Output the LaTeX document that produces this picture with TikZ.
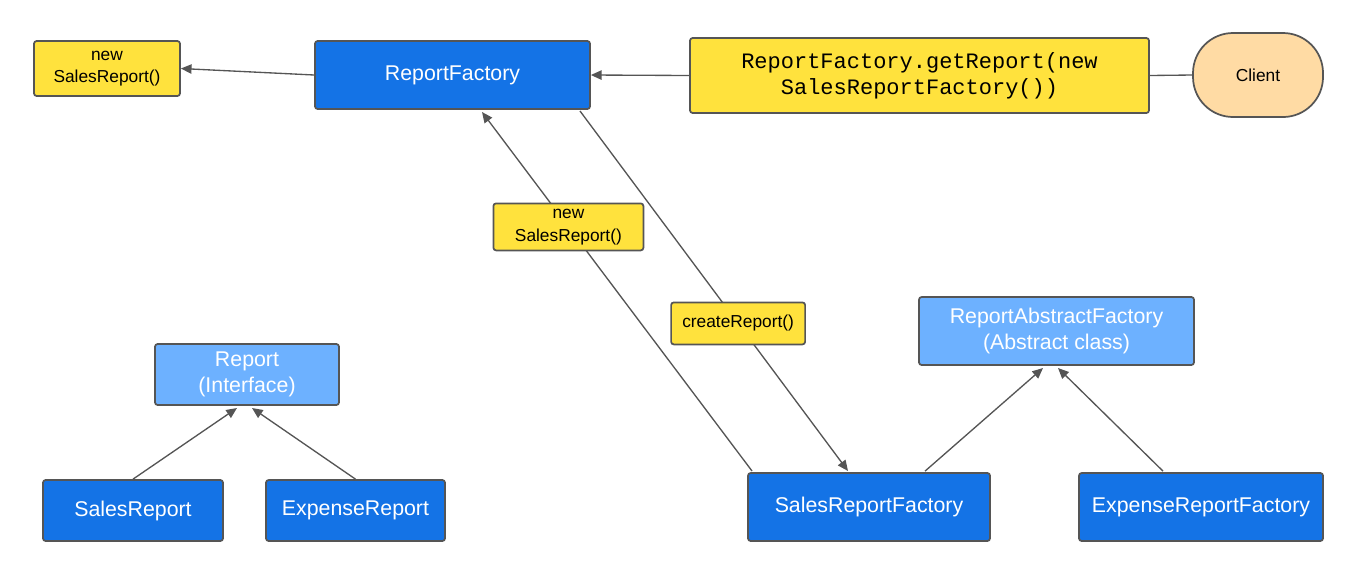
\documentclass[tikz,border=0pt]{standalone}
\usepackage{fontspec}
\setmainfont{Liberation Sans}
\newfontfamily\codefont{Liberation Mono}
\usetikzlibrary{arrows.meta}
\definecolor{dblue}{HTML}{1473E6}
\definecolor{lblue}{HTML}{6DB1FF}
\definecolor{yel}{HTML}{FFE23D}
\definecolor{org}{HTML}{FFDBA4}
\definecolor{edge}{HTML}{555555}
\begin{document}
\begin{tikzpicture}[x=0.75pt,y=-0.75pt,
 box/.style={draw=edge,line width=1.3pt,rounded corners=2pt,inner sep=0pt,align=center},
 blue/.style={box,fill=dblue,text=white,font=\fontsize{16}{19.5}\selectfont},
 light/.style={box,fill=lblue,text=white,font=\fontsize{16}{19.5}\selectfont},
 note/.style={box,fill=yel,font=\fontsize{13}{17}\selectfont},
 con/.style={draw=edge,line width=1pt},
 arr/.style={con,-{Triangle[length=8pt,width=7pt]}}]
\useasboundingbox (0,0) rectangle (1358,576);
\node[note,minimum width=146*0.75pt,minimum height=55*0.75pt] (n1) at (107,68.5) {new\\SalesReport()};
\node[blue,minimum width=275*0.75pt,minimum height=68*0.75pt] (rf) at (452.5,75) {ReportFactory};
\node[note,minimum width=459*0.75pt,minimum height=75*0.75pt,font=\codefont\fontsize{16.5}{19.5}\selectfont] (gr) at (919.5,75.5) {ReportFactory.getReport(new\\SalesReportFactory())};
\node[draw=edge,line width=1.3pt,fill=org,rounded corners=30pt,minimum width=130*0.75pt,minimum height=84*0.75pt,font=\fontsize{13}{16}\selectfont] (cl) at (1258,75) {Client};
\node[light,minimum width=275*0.75pt,minimum height=68*0.75pt] (raf) at (1056.5,331) {ReportAbstractFactory\\(Abstract class)};
\node[light,minimum width=184*0.75pt,minimum height=61*0.75pt] (rep) at (247,374.5) {Report\\(Interface)};
\node[blue,minimum width=180*0.75pt,minimum height=61*0.75pt] (sr) at (133,510.5) {SalesReport};
\node[blue,minimum width=179*0.75pt,minimum height=61*0.75pt] (er) at (355.5,510.5) {ExpenseReport};
\node[blue,minimum width=242*0.75pt,minimum height=68*0.75pt] (srf) at (869,507) {SalesReportFactory};
\node[blue,minimum width=244*0.75pt,minimum height=68*0.75pt] (erf) at (1201,507) {ExpenseReportFactory};
\coordinate (a1) at (752,471); \coordinate (a2) at (482,112);
\coordinate (b1) at (580,111); \coordinate (b2) at (848,471);
\draw[arr] (rf.west) -- (n1.east);
\draw[arr] (gr.west) -- (rf.east);
\draw[con] (cl.west) -- (gr.east);
\draw[arr] (a1) -- (a2) node[note,pos=0.68,minimum width=150*0.75pt,minimum height=47*0.75pt] (l1) {new\\SalesReport()};
\draw[arr] (b1) -- (b2) node[note,pos=0.59,minimum width=134*0.75pt,minimum height=42*0.75pt] (l2) {createReport()};
\draw[arr] (srf.north)++(56,-1) -- (1043,368);
\draw[arr] (erf.north)++(-38,-1) -- (1058,368);
\draw[arr] (sr.north) -- (237,408);
\draw[arr] (er.north) -- (252,408);
\end{tikzpicture}
\end{document}
